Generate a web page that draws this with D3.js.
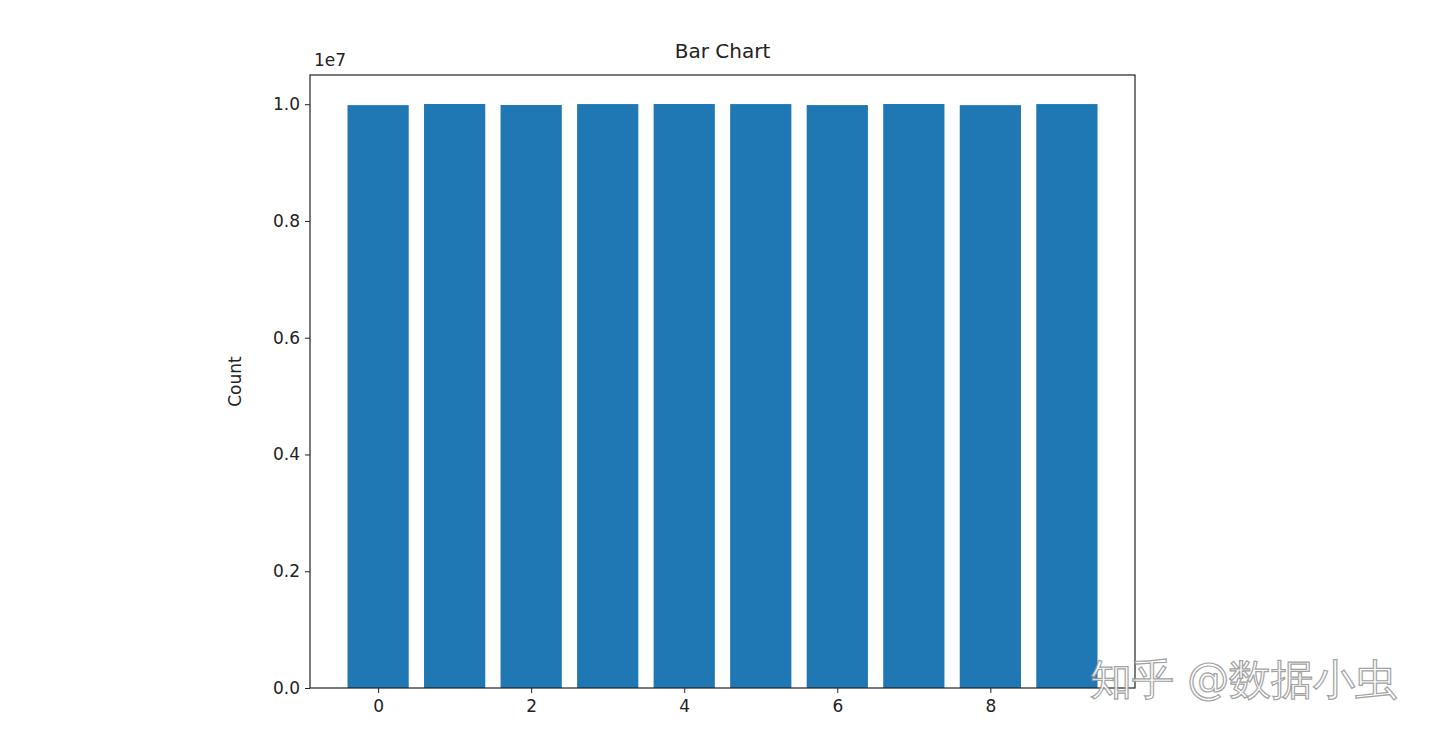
<!DOCTYPE html>
<html>
<head>
<meta charset="utf-8">
<script src="https://cdn.jsdelivr.net/npm/d3@7"></script>
<style>
  body { margin: 0; background: #fff; }
  text { font-family: "DejaVu Sans", sans-serif; fill: #222; }
</style>
</head>
<body>
<svg id="chart" width="1440" height="738"></svg>
<script>
// Data
const bins = [0, 1, 2, 3, 4, 5, 6, 7, 8, 9];
const counts = [9984000, 10003000, 9986000, 10002000, 10003000, 10002000, 9985000, 10003000, 9984000, 10002000];
const yTicks = [0, 0.2e7, 0.4e7, 0.6e7, 0.8e7, 1.0e7];
const xTicks = [0, 2, 4, 6, 8];

const margin = { left: 310, right: 1135, top: 75, bottom: 688 };
const svg = d3.select("#chart");

const x = d3.scaleLinear().domain([-0.89, 9.89]).range([margin.left, margin.right]);
const y = d3.scaleLinear().domain([0, 1.05e7]).range([margin.bottom, margin.top]);

// Bars
svg.append("g")
  .selectAll("rect")
  .data(bins)
  .enter()
  .append("rect")
  .attr("x", d => x(d - 0.4))
  .attr("width", x(0.8) - x(0))
  .attr("y", (d, i) => y(counts[i]))
  .attr("height", (d, i) => y(0) - y(counts[i]))
  .attr("fill", "#1f77b4");

// Axes
const yAxis = svg.append("g")
  .attr("transform", "translate(" + margin.left + ",0)")
  .call(d3.axisLeft(y).tickValues(yTicks).tickFormat(d => (d / 1e7).toFixed(1)).tickSize(5).tickPadding(5));

const xAxis = svg.append("g")
  .attr("transform", "translate(0," + margin.bottom + ")")
  .call(d3.axisBottom(x).tickValues(xTicks).tickFormat(d3.format("d")).tickSize(5).tickPadding(7));

[yAxis, xAxis].forEach(a => {
  a.selectAll("text").attr("font-size", "17px").attr("fill", "#222");
  a.select(".domain").remove();
  a.selectAll("line").attr("stroke", "#222");
});

// Frame
svg.append("rect")
  .attr("x", margin.left)
  .attr("y", margin.top)
  .attr("width", margin.right - margin.left)
  .attr("height", margin.bottom - margin.top)
  .attr("fill", "none")
  .attr("stroke", "#222")
  .attr("stroke-width", 1.2);

// Labels
svg.append("text")
  .attr("x", (margin.left + margin.right) / 2)
  .attr("y", 58)
  .attr("text-anchor", "middle")
  .attr("font-size", "20px")
  .text("Bar Chart");

svg.append("text")
  .attr("x", margin.left + 4)
  .attr("y", 66)
  .attr("font-size", "17px")
  .text("1e7");

svg.append("text")
  .attr("transform", "translate(241," + (margin.top + margin.bottom) / 2 + ") rotate(-90)")
  .attr("text-anchor", "middle")
  .attr("font-size", "17px")
  .text("Count");

svg.append("text")
  .attr("x", (margin.left + margin.right) / 2)
  .attr("y", 752)
  .attr("text-anchor", "middle")
  .attr("font-size", "17px")
  .text("Bin");

// Watermark
svg.append("text")
  .attr("x", 1090)
  .attr("y", 694)
  .attr("font-family", "Noto Sans CJK SC")
  .attr("font-size", "42px")
  .style("fill", "#fff")
  .attr("stroke", "#999")
  .attr("stroke-width", 1.2)
  .attr("opacity", 0.9)
  .text("知乎 @数据小虫");
</script>
</body>
</html>
